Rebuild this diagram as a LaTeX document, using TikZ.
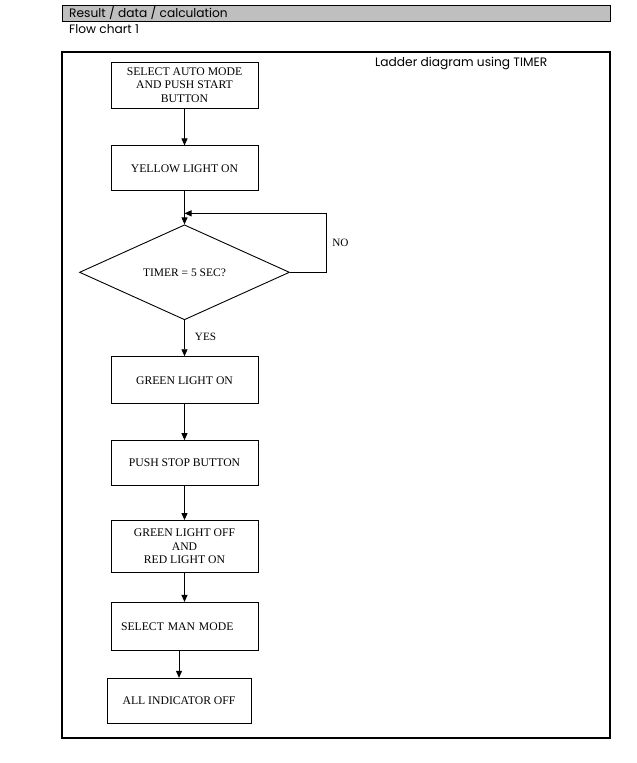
\documentclass[tikz,border=0pt]{standalone}
\usepackage{fontspec}
\setmainfont{Liberation Serif}
\newfontfamily\headfont{Poppins}
\usetikzlibrary{positioning, arrows.meta, shapes.geometric}

\begin{document}
\begin{tikzpicture}[x=1pt, y=-1pt, node distance=36pt,
  box/.style={draw, line width=0.9pt, align=center, font=\fontsize{11.7}{13.5}\selectfont, minimum width=147pt, minimum height=46pt, inner sep=2pt},
  dec/.style={draw, diamond, aspect=2.2, line width=0.9pt, inner sep=0pt, minimum width=210pt, minimum height=95pt, font=\fontsize{11.5}{13}\selectfont},
  lbl/.style={font=\fontsize{11.2}{13}\selectfont, inner sep=0pt},
  head/.style={font=\headfont\fontsize{12.2}{14}\selectfont, inner sep=0pt, anchor=base west},
  arr/.style={-{Triangle[length=7pt, width=6pt]}, line width=0.9pt}]
\useasboundingbox (0,0) rectangle (637,763);
\draw[fill=black!25, line width=0.9pt] (62,5) rectangle (610,21);
\node[head] (title) at (69,17.5) {Result / data / calculation};
\node[head] (sub) at (69,33) {Flow chart 1};
\draw[line width=1.1pt] (62,52) rectangle (610,738);
\node[head] (ladder) at (375,66) {Ladder diagram using TIMER};
\node[box] (auto) at (184.5,85) {SELECT AUTO MODE\\ AND PUSH START\\ BUTTON};
\node[box, below=37pt of auto, minimum height=45pt] (yellow) {YELLOW LIGHT ON};
\node[dec, below=33pt of yellow] (timer) {TIMER = 5 SEC?};
\node[box, below=36pt of timer, minimum height=47pt] (green) {GREEN LIGHT ON};
\node[box, below=36pt of green, minimum height=45pt] (stop) {PUSH STOP BUTTON};
\node[box, below=34pt of stop, minimum height=52pt] (red) {GREEN LIGHT OFF\\ AND\\ RED LIGHT ON};
\node[box, below=29pt of red, minimum height=48pt, align=left, text width=127pt] (man) {SELECT MAN MODE};
\node[box, below=27pt of man, minimum width=144pt, minimum height=45pt, xshift=-5.5pt] (off) {ALL INDICATOR OFF};
\coordinate[below=22pt of yellow] (back);
\draw[arr] (auto) -- (yellow);
\draw[arr] (yellow) -- (timer);
\draw[arr] (timer.east) -- ++(36,0) |- node[lbl, pos=0.25, right=6pt] (no) {NO} (back);
\draw[arr] (timer) -- node[lbl, pos=0.45, right=10pt] (yes) {YES} (green);
\draw[arr] (green) -- (stop);
\draw[arr] (stop) -- (red);
\draw[arr] (red) -- (man);
\draw[arr] (man.south -| off) -- (off);
\end{tikzpicture}
\end{document}
